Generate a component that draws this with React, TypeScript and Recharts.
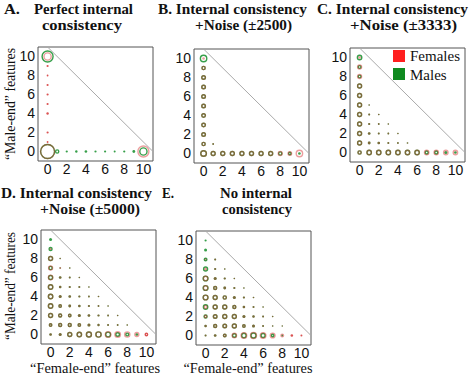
import { ScatterChart, Scatter, XAxis, YAxis, ReferenceArea, ReferenceLine } from "recharts"

// each point: [x, y, female size, male size]  (0 = no circle)
const panelA = [
  [0, 10, 3.6, 5.5], [0, 9, 0.6, 0], [0, 8, 0.4, 0], [0, 7, 0.6, 0], [0, 6, 0.6, 0],
  [0, 5, 0.6, 0], [0, 4, 0.7, 0], [0, 2, 0.6, 0], [0, 1, 0.4, 0], [0, 0, 7, 7],
  [1, 0, 0, 1.6], [2, 0, 0, 0.6], [3, 0, 0, 0.7], [4, 0, 0, 0.8], [5, 0, 0, 0.6],
  [6, 0, 0, 0.6], [7, 0, 0, 0.5], [8, 0, 0, 0.6], [9, 0, 0, 0.9], [10, 0, 5.5, 3.6],
]

const panelB = [
  [0, 10, 0.8, 3.2], [0, 9, 1.6, 1.6], [0, 8, 1.8, 1.8], [0, 7, 1.8, 1.8], [0, 6, 1.8, 1.8],
  [0, 5, 1.8, 1.8], [0, 4, 1.8, 1.8], [0, 3, 1.8, 1.8], [0, 2, 1.8, 1.8], [0, 1, 1.6, 1.6],
  [0, 0, 2.8, 2.8], [1, 1, 0.4, 0.4],
  [1, 0, 2, 2], [2, 0, 2, 2], [3, 0, 2, 2], [4, 0, 2, 2], [5, 0, 2, 2], [6, 0, 2, 2],
  [7, 0, 2, 2], [8, 0, 2, 1.6], [9, 0, 1.8, 1.2], [10, 0, 3.2, 0.8],
]

const panelC = [
  [0, 10, 0.8, 2.2], [0, 9, 2, 1.4], [0, 8, 2, 1.4], [0, 7, 2, 2], [0, 6, 2, 2],
  [0, 5, 2, 2], [0, 4, 2, 2], [0, 3, 2, 2], [0, 2, 2, 2], [0, 1, 2, 2], [0, 0, 1.6, 1.6],
  [1, 0, 2.2, 2.2], [2, 0, 2.2, 2.2], [3, 0, 2.2, 2.2], [4, 0, 2.2, 2.2], [5, 0, 2.2, 2.2],
  [6, 0, 2.2, 2.2], [7, 0, 2.2, 1.5], [8, 0, 2.2, 1.5], [9, 0, 2.2, 1], [10, 0, 2.2, 0.8],
  [1, 1, 0.9, 0.9], [1, 2, 0.8, 0.8], [1, 3, 0.6, 0.6], [1, 4, 0.5, 0.5], [1, 5, 0.3, 0.3],
  [2, 1, 0.8, 0.8], [2, 2, 0.5, 0.5], [2, 3, 0.4, 0.4], [2, 4, 0.3, 0.3],
  [3, 1, 0.5, 0.5], [3, 2, 0.4, 0.4], [3, 3, 0.3, 0.3], [4, 1, 0.4, 0.4], [4, 2, 0.3, 0.3],
  [5, 1, 0.3, 0.3],
]

const panelD = [
  [0, 10, 0, 1], [0, 9, 0.6, 1.5], [0, 8, 2, 2], [0, 7, 2, 1.6], [0, 6, 2.2, 2],
  [0, 5, 2.2, 2.2], [0, 4, 2.2, 2.2], [0, 3, 2.2, 2.2], [0, 2, 2, 2], [0, 1, 1.2, 1.2], [0, 0, 0.8, 0.8],
  [1, 8, 0.3, 0.3], [1, 7, 0.5, 0.3], [1, 6, 0.8, 0.8], [1, 5, 0.8, 0.8], [1, 4, 1, 1],
  [1, 3, 1.2, 1.2], [1, 2, 1.5, 1.5], [1, 1, 1.5, 1.5], [1, 0, 1, 1],
  [2, 7, 0.3, 0.3], [2, 6, 0.5, 0.5], [2, 5, 0.6, 0.6], [2, 4, 0.8, 0.8], [2, 3, 0.9, 0.9],
  [2, 2, 1.2, 1.2], [2, 1, 1.5, 1.5], [2, 0, 2, 2],
  [3, 6, 0.3, 0.3], [3, 5, 0.5, 0.5], [3, 4, 0.6, 0.6], [3, 3, 0.8, 0.8], [3, 2, 1, 1],
  [3, 1, 1.2, 1.2], [3, 0, 2.2, 2.2],
  [4, 5, 0.3, 0.3], [4, 4, 0.4, 0.4], [4, 3, 0.6, 0.6], [4, 2, 0.8, 0.8], [4, 1, 1, 1], [4, 0, 2.5, 2.5],
  [5, 4, 0.3, 0.3], [5, 3, 0.4, 0.4], [5, 2, 0.6, 0.6], [5, 1, 0.7, 0.7], [5, 0, 2.6, 2.6],
  [6, 3, 0.3, 0.3], [6, 2, 0.4, 0.4], [6, 1, 0.5, 0.5], [6, 0, 2.8, 2.4],
  [7, 2, 0.3, 0.3], [7, 1, 0.4, 0.4], [7, 0, 2.8, 1.8],
  [8, 1, 0.3, 0.3], [8, 0, 2.6, 1.4], [9, 0, 2, 0.8], [10, 0, 1.2, 0],
]

const panelE = [
  [0, 10, 0, 0.6], [0, 9, 0, 1], [0, 8, 0.4, 1.3], [0, 7, 1, 2], [0, 6, 2.2, 2.4],
  [0, 5, 2.2, 2.4], [0, 4, 2.4, 2.4], [0, 3, 1.5, 2.2], [0, 2, 1.2, 1.5], [0, 1, 0.8, 0.8], [0, 0, 0.5, 0.5],
  [1, 8, 0.5, 0.5], [1, 7, 0.6, 0.6], [1, 6, 1, 1], [1, 5, 1.5, 1.5], [1, 4, 2, 2],
  [1, 3, 2, 2], [1, 2, 1.8, 1.8], [1, 1, 1.5, 1.5], [1, 0, 0.8, 0.8],
  [2, 7, 0.3, 0.3], [2, 6, 0.6, 0.6], [2, 5, 0.9, 0.9], [2, 4, 1.6, 1.6], [2, 3, 2, 2],
  [2, 2, 2, 2], [2, 1, 1.8, 1.8], [2, 0, 1.3, 1.3],
  [3, 6, 0.3, 0.3], [3, 5, 0.6, 0.6], [3, 4, 1, 1], [3, 3, 1.5, 1.5], [3, 2, 2, 2],
  [3, 1, 2, 2], [3, 0, 2.2, 1.8],
  [4, 5, 0.3, 0.3], [4, 4, 0.6, 0.6], [4, 3, 0.8, 0.8], [4, 2, 1, 1], [4, 1, 1.2, 1.2], [4, 0, 2.8, 2.2],
  [5, 4, 0.3, 0.3], [5, 3, 0.5, 0.5], [5, 2, 0.7, 0.7], [5, 1, 1, 1], [5, 0, 3, 2.5],
  [6, 3, 0.3, 0.3], [6, 2, 0.5, 0.5], [6, 1, 0.5, 0.5], [6, 0, 2.8, 2],
  [7, 2, 0.3, 0.3], [7, 1, 0.3, 0.3], [7, 0, 2.4, 1.2],
  [8, 1, 0.2, 0.2], [8, 0, 1.3, 0.4], [9, 0, 0.8, 0], [10, 0, 0.5, 0],
]

const axisTicks = [0, 2, 4, 6, 8, 10]

const RED = "#d22828"
const GREEN = "#2c9a40"
const SERIF = "'Liberation Serif', 'Times New Roman', serif"
const SANS = "'Liberation Sans', Arial, sans-serif"

const PLOT_W = 115
const PLOT_H = 114
const Y_W = 28
const X_H = 22

function makeRing(color: string, opacity: number, soloOpacity: number) {
  return (props: any) => {
    const { cx, cy, payload } = props
    if (cx == null || cy == null) return <g />
    const r = payload.r
    const op = payload.solo ? soloOpacity : opacity
    if (r <= 1) {
      return <circle cx={cx} cy={cy} r={r + 0.5} fill={color} fillOpacity={op} />
    }
    return <circle cx={cx} cy={cy} r={r} fill="none" stroke={color} strokeOpacity={op} strokeWidth={1.4} />
  }
}

const maleShape = makeRing(GREEN, 0.95, 0.95)
const femaleShape = makeRing(RED, 0.45, 0.8)

function Panel({ points, left, top }: { points: number[][]; left: number; top: number }) {
  const females = points
    .filter((p) => p[2] > 0)
    .map((p) => ({ x: p[0], y: p[1], r: p[2], solo: p[3] === 0 }))
  const males = points
    .filter((p) => p[3] > 0)
    .map((p) => ({ x: p[0], y: p[1], r: p[3], solo: p[2] === 0 }))
  return (
    <div style={{ position: "absolute", left: left - Y_W, top: top - 1 }}>
      <ScatterChart
        width={Y_W + PLOT_W + 1}
        height={PLOT_H + X_H + 1}
        margin={{ top: 1, right: 1, left: 0, bottom: 0 }}
      >
        <XAxis
          type="number"
          dataKey="x"
          domain={[-1, 11]}
          ticks={axisTicks}
          interval={0}
          allowDataOverflow
          axisLine={false}
          tickLine={false}
          tickSize={0}
          tickMargin={3}
          height={X_H}
          tick={{ fontSize: 14, fill: "#111", fontFamily: SANS }}
        />
        <YAxis
          type="number"
          dataKey="y"
          domain={[-1, 11]}
          ticks={axisTicks}
          interval={0}
          allowDataOverflow
          axisLine={false}
          tickLine={false}
          tickSize={0}
          tickMargin={3}
          width={Y_W}
          tick={{ fontSize: 14, fill: "#111", fontFamily: SANS }}
        />
        <ReferenceArea x1={-1} x2={11} y1={-1} y2={11} fill="#fff" fillOpacity={0} stroke="#555" strokeWidth={1} />
        <ReferenceLine segment={[{ x: 0, y: 11 }, { x: 11, y: 0 }]} stroke="#aaa" strokeWidth={1} />
        <Scatter data={males} shape={maleShape} isAnimationActive={false} />
        <Scatter data={females} shape={femaleShape} isAnimationActive={false} />
      </ScatterChart>
    </div>
  )
}

export default function App() {
  const title = { fontFamily: SERIF, fontWeight: 700, fontSize: 14, fill: "#111" }
  const label = { fontFamily: SERIF, fontSize: 15, fill: "#111" }
  return (
    <div style={{ position: "absolute", left: 0, top: 0, width: 474, height: 376, background: "#fff" }}>
      <Panel points={panelA} left={38} top={47} />
      <Panel points={panelB} left={194} top={49} />
      <Panel points={panelC} left={350} top={48} />
      <Panel points={panelD} left={41} top={230} />
      <Panel points={panelE} left={196} top={231} />
      <svg
        width={474}
        height={376}
        style={{ position: "absolute", left: 0, top: 0, pointerEvents: "none" }}
      >
        <text x={4} y={14} textLength={16} lengthAdjust="spacingAndGlyphs" {...title}>A.</text>
        <text x={34} y={14} textLength={99} lengthAdjust="spacingAndGlyphs" {...title}>Perfect internal</text>
        <text x={42} y={30} textLength={80} lengthAdjust="spacingAndGlyphs" {...title}>consistency</text>

        <text x={158} y={14} textLength={149} lengthAdjust="spacingAndGlyphs" {...title}>B. Internal  consistency</text>
        <text x={195} y={30} textLength={97} lengthAdjust="spacingAndGlyphs" {...title}>+Noise (±2500)</text>

        <text x={317} y={14} textLength={151} lengthAdjust="spacingAndGlyphs" {...title}>C.  Internal  consistency</text>
        <text x={350} y={30} textLength={107} lengthAdjust="spacingAndGlyphs" {...title}>+Noise (±3333)</text>

        <text x={1} y={198} textLength={151} lengthAdjust="spacingAndGlyphs" {...title}>D. Internal  consistency</text>
        <text x={40} y={214} textLength={100} lengthAdjust="spacingAndGlyphs" {...title}>+Noise (±5000)</text>

        <text x={162} y={198} textLength={12} lengthAdjust="spacingAndGlyphs" {...title}>E.</text>
        <text x={220} y={198} textLength={72} lengthAdjust="spacingAndGlyphs" {...title}>No internal</text>
        <text x={222} y={214} textLength={70} lengthAdjust="spacingAndGlyphs" {...title}>consistency</text>

        <text
          transform="translate(15,104) rotate(-90)"
          textAnchor="middle"
          textLength={112}
          lengthAdjust="spacingAndGlyphs"
          {...label}
        >
          “Male-end” features
        </text>
        <text
          transform="translate(15,286) rotate(-90)"
          textAnchor="middle"
          textLength={108}
          lengthAdjust="spacingAndGlyphs"
          {...label}
        >
          “Male-end” features
        </text>
        <text x={95} y={373} textAnchor="middle" textLength={130} lengthAdjust="spacingAndGlyphs" {...label}>
          “Female-end”  features
        </text>
        <text x={248} y={373} textAnchor="middle" textLength={129} lengthAdjust="spacingAndGlyphs" {...label}>
          “Female-end”  features
        </text>

        <rect x={393} y={50} width={12} height={12} fill="#ff1f1f" />
        <text x={410} y={61} {...label}>Females</text>
        <rect x={393} y={68} width={12} height={12} fill="#0f8a1f" />
        <text x={410} y={80} {...label}>Males</text>
      </svg>
    </div>
  )
}
